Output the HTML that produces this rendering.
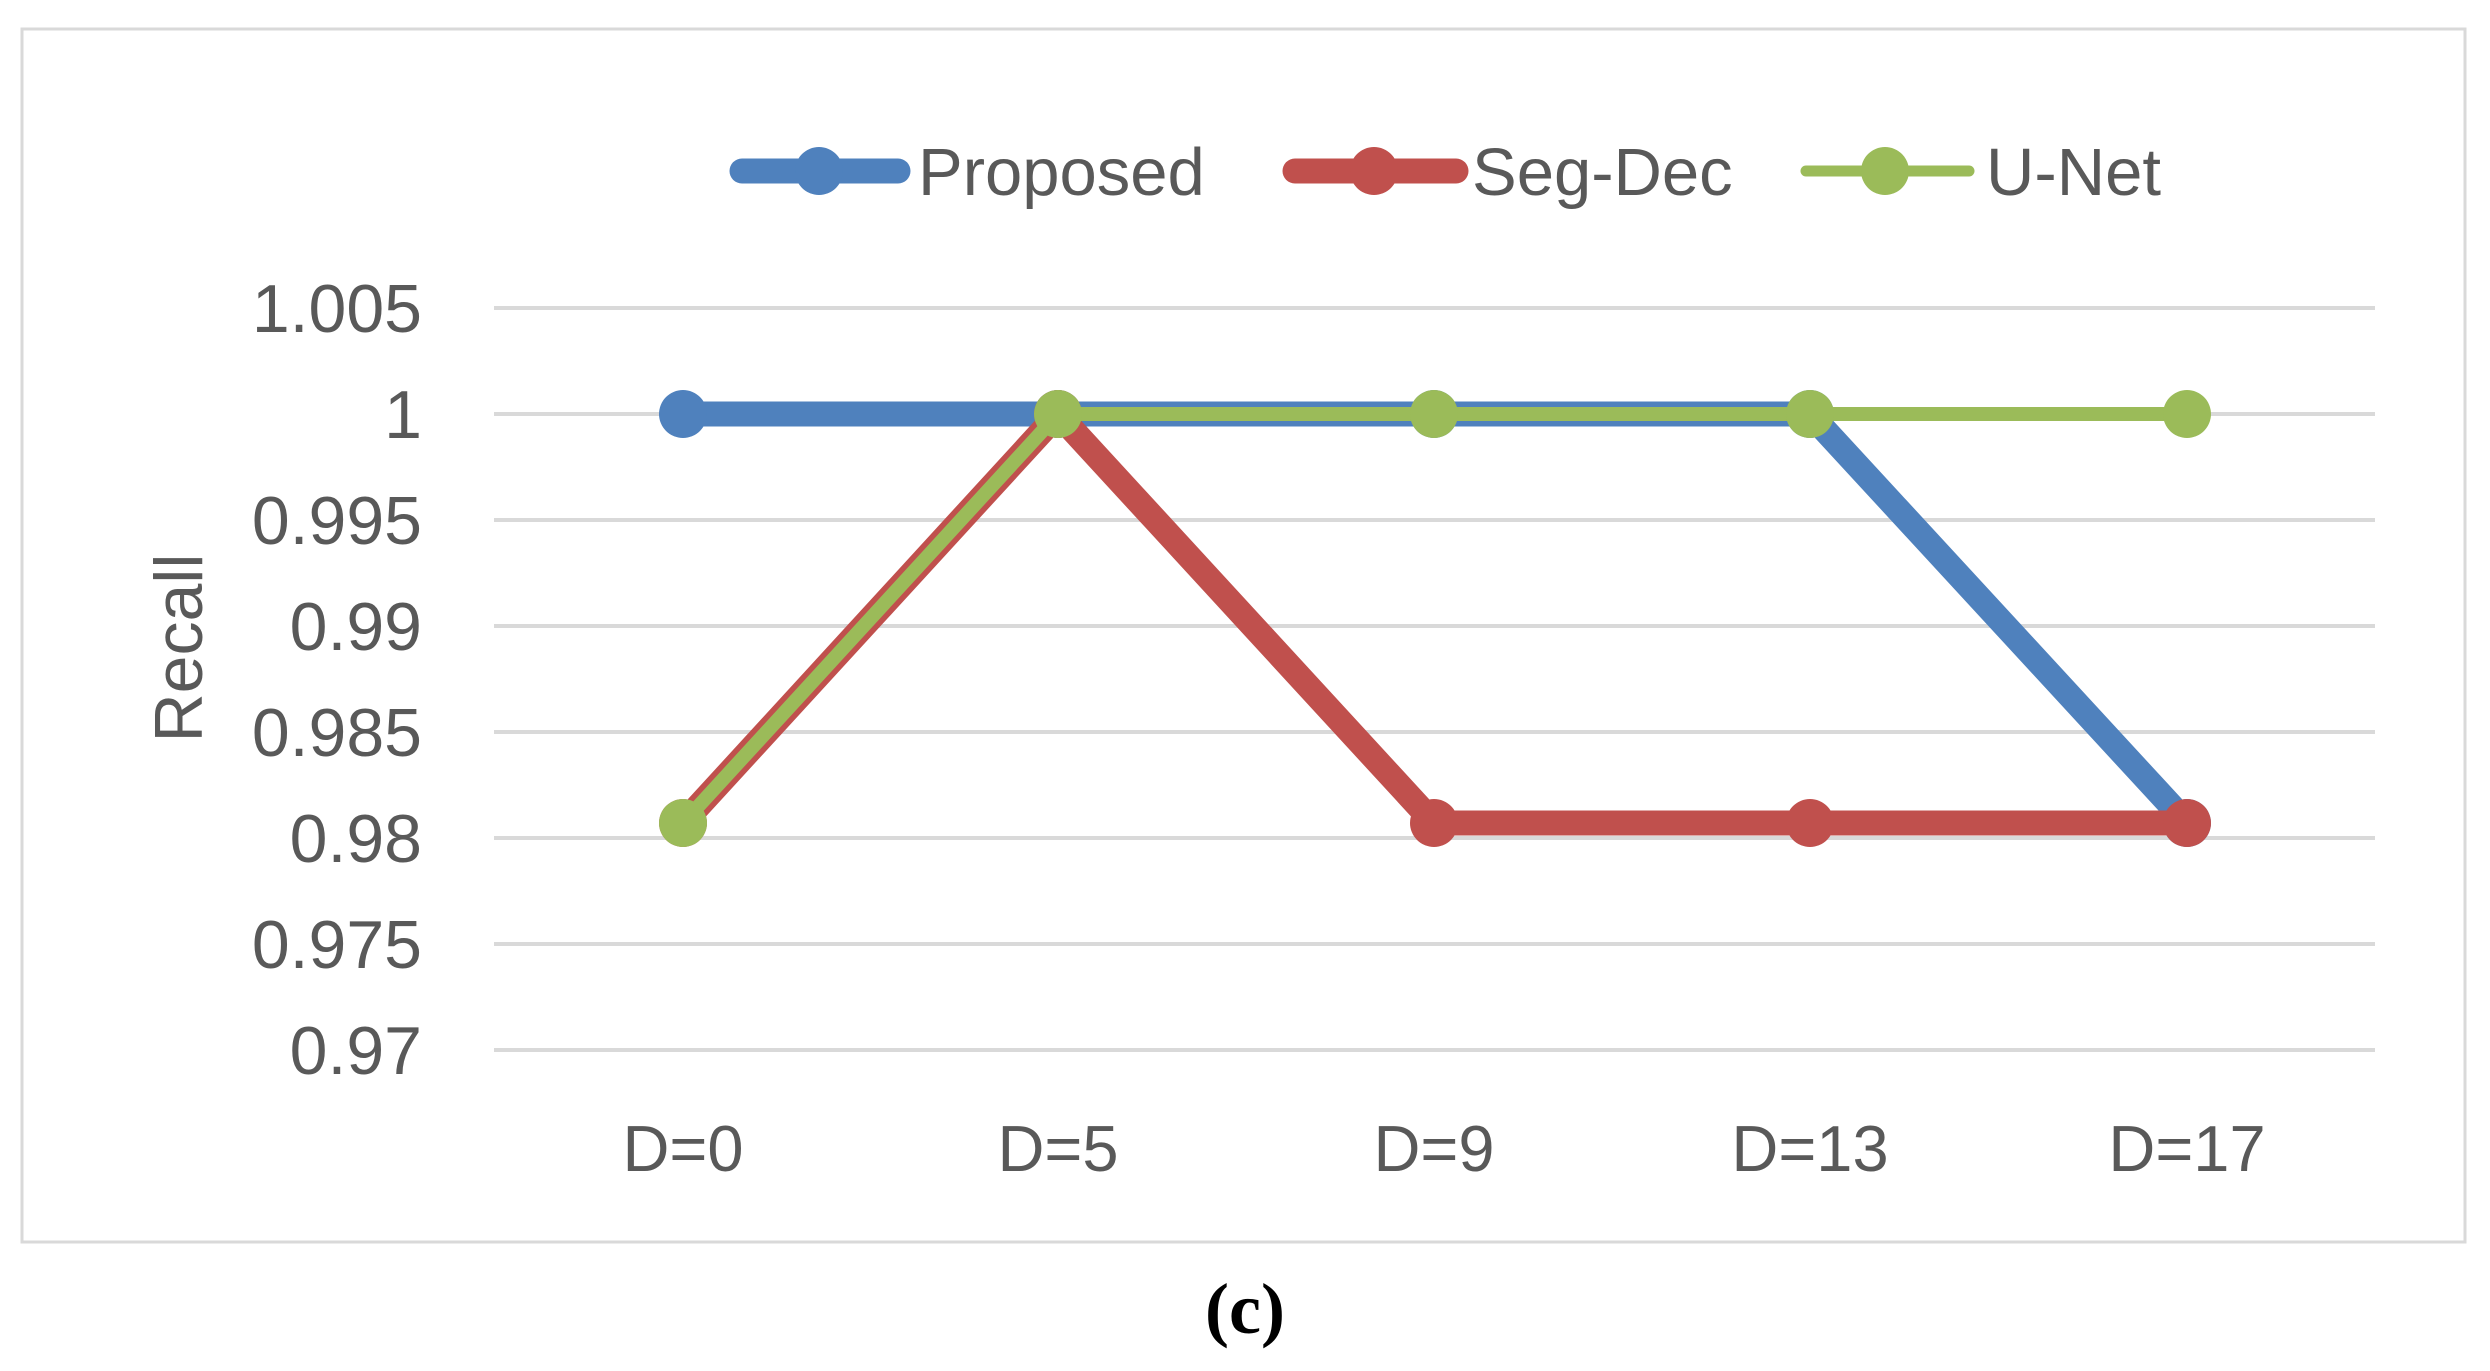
<!DOCTYPE html>
<html><head><meta charset="utf-8"><style>
html,body{margin:0;padding:0;background:#fff;}
svg{display:block;}
</style></head><body>
<svg width="2490" height="1371" viewBox="0 0 2490 1371" xmlns="http://www.w3.org/2000/svg">
<rect x="0" y="0" width="2490" height="1371" fill="#fff"/>
<rect x="22" y="29" width="2443" height="1213" fill="none" stroke="#D9D9D9" stroke-width="3"/>
<g stroke="#D9D9D9" stroke-width="4">
<line x1="494" y1="308" x2="2375" y2="308"/>
<line x1="494" y1="414" x2="2375" y2="414"/>
<line x1="494" y1="520" x2="2375" y2="520"/>
<line x1="494" y1="626" x2="2375" y2="626"/>
<line x1="494" y1="732" x2="2375" y2="732"/>
<line x1="494" y1="838" x2="2375" y2="838"/>
<line x1="494" y1="944" x2="2375" y2="944"/>
<line x1="494" y1="1050" x2="2375" y2="1050"/>
</g>
<g font-family="Liberation Sans, sans-serif" font-size="68" fill="#595959" text-anchor="end">
<text x="422" y="332">1.005</text>
<text x="422" y="438">1</text>
<text x="422" y="544">0.995</text>
<text x="422" y="650">0.99</text>
<text x="422" y="756">0.985</text>
<text x="422" y="862">0.98</text>
<text x="422" y="968">0.975</text>
<text x="422" y="1074">0.97</text>
</g>
<text x="0" y="0" transform="translate(202,648) rotate(-90)" font-family="Liberation Sans, sans-serif" font-size="68" fill="#595959" text-anchor="middle">Recall</text>
<g font-family="Liberation Sans, sans-serif" font-size="65" fill="#595959" text-anchor="middle">
<text x="683" y="1171">D=0</text>
<text x="1058" y="1171">D=5</text>
<text x="1434" y="1171">D=9</text>
<text x="1810" y="1171">D=13</text>
<text x="2187" y="1171">D=17</text>
</g>
<polyline points="683,414 1058,414 1434,414 1810,414 2187,823" fill="none" stroke="#4F81BD" stroke-width="25" stroke-linejoin="round"/>
<g fill="#4F81BD"><circle cx="683" cy="414" r="24"/><circle cx="1058" cy="414" r="24"/><circle cx="1434" cy="414" r="24"/><circle cx="1810" cy="414" r="24"/><circle cx="2187" cy="823" r="24"/></g>
<polyline points="683,823 1058,414 1434,823 1810,823 2187,823" fill="none" stroke="#C0504D" stroke-width="25" stroke-linejoin="round"/>
<g fill="#C0504D"><circle cx="683" cy="823" r="24"/><circle cx="1058" cy="414" r="24"/><circle cx="1434" cy="823" r="24"/><circle cx="1810" cy="823" r="24"/><circle cx="2187" cy="823" r="24"/></g>
<polyline points="683,823 1058,414 1434,414 1810,414 2187,414" fill="none" stroke="#9BBB59" stroke-width="14" stroke-linejoin="round"/>
<g fill="#9BBB59"><circle cx="683" cy="823" r="24"/><circle cx="1058" cy="414" r="24"/><circle cx="1434" cy="414" r="24"/><circle cx="1810" cy="414" r="24"/><circle cx="2187" cy="414" r="24"/></g>
<line x1="742" y1="171" x2="898" y2="171" stroke="#4F81BD" stroke-width="25" stroke-linecap="round"/>
<circle cx="819" cy="171" r="24" fill="#4F81BD"/>
<line x1="1295" y1="171" x2="1456" y2="171" stroke="#C0504D" stroke-width="25" stroke-linecap="round"/>
<circle cx="1374" cy="171" r="24" fill="#C0504D"/>
<line x1="1806" y1="171" x2="1969" y2="171" stroke="#9BBB59" stroke-width="11" stroke-linecap="round"/>
<circle cx="1885" cy="171" r="24" fill="#9BBB59"/>
<g font-family="Liberation Sans, sans-serif" font-size="67" fill="#595959">
<text x="918" y="195">Proposed</text>
<text x="1472" y="195">Seg-Dec</text>
<text x="1986" y="195">U-Net</text>
</g>
<text x="1245" y="1333" font-family="Liberation Serif, serif" font-size="72" font-weight="bold" fill="#000" text-anchor="middle">(c)</text>
</svg>
</body></html>
